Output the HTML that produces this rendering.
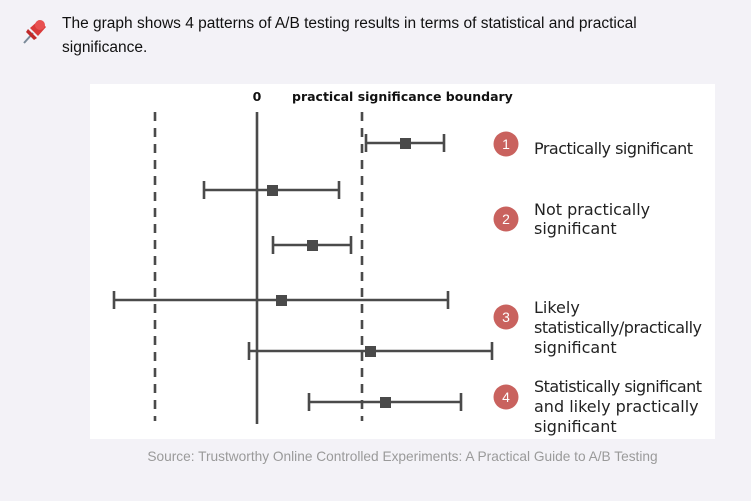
<!DOCTYPE html>
<html><head><meta charset="utf-8"><style>
body{margin:0;width:751px;height:501px;background:#f3f2f7;font-family:"Liberation Sans",sans-serif;position:relative;overflow:hidden}
.hdr{position:absolute;left:62px;top:12px;font-size:15.5px;line-height:24px;color:#111;width:640px}
.src{position:absolute;left:0;width:805px;text-align:center;top:449px;font-size:13.7px;color:#9a9a9a}
</style></head><body>
<svg style="position:absolute;left:20px;top:16px" width="30" height="30" viewBox="0 0 30 30">
<line x1="4" y1="27" x2="13" y2="17" stroke="#7a8a99" stroke-width="2"/>
<path d="M10 12 L19 4 L26 11 L18 20 Z" fill="#d93a3a"/>
<circle cx="20" cy="9" r="5" fill="#e85050"/>
<path d="M8 13 L17 22 L14 24 L6 16 Z" fill="#c02a2a"/>
</svg>
<div class="hdr">The graph shows 4 patterns of A/B testing results in terms of statistical and practical significance.</div>
<svg style="position:absolute;left:0;top:0" width="751" height="501">
<rect x="90" y="84" width="625" height="355" fill="#fff"/>
<text x="257" y="101" font-family="DejaVu Sans,sans-serif" font-weight="bold" font-size="12.5" text-anchor="middle" fill="#111">0</text>
<text x="292" y="101" font-family="DejaVu Sans,sans-serif" font-weight="bold" font-size="12.5" fill="#111">practical significance boundary</text>
<g stroke="#4a4a4a" stroke-width="2.6" fill="none">
<line x1="155" y1="112" x2="155" y2="421" stroke-dasharray="9,7"/>
<line x1="362" y1="112" x2="362" y2="421" stroke-dasharray="9,7"/>
<line x1="257" y1="112" x2="257" y2="424"/>
<path d="M366 143H444M366 134V152M444 134V152"/>
<path d="M204 190H339M204 181V199M339 181V199"/>
<path d="M273 245H351M273 236V254M351 236V254"/>
<path d="M114 300H448M114 291V309M448 291V309"/>
<path d="M249 351H492M249 342V360M492 342V360"/>
<path d="M309 402H461M309 393V411M461 393V411"/>
</g>
<g fill="#4a4a4a">
<rect x="400" y="138" width="11" height="11"/>
<rect x="267" y="185" width="11" height="11"/>
<rect x="307" y="240" width="11" height="11"/>
<rect x="276" y="295" width="11" height="11"/>
<rect x="365" y="346" width="11" height="11"/>
<rect x="380" y="397" width="11" height="11"/>
</g>
<g fill="#c9625e"><circle cx="506" cy="144" r="12.5"/><circle cx="506" cy="219" r="12.5"/><circle cx="506" cy="317" r="12.5"/><circle cx="506" cy="397" r="12.5"/></g>
<g fill="#fff" font-size="14" text-anchor="middle" font-family="Liberation Sans,sans-serif"><text x="506" y="149">1</text><text x="506" y="224">2</text><text x="506" y="322">3</text><text x="506" y="402">4</text></g>
<g fill="#222" font-size="16" font-family="DejaVu Sans,sans-serif">
<text x="534" y="154" textLength="159">Practically significant</text>
<text x="534" y="215">Not practically</text><text x="534" y="234">significant</text>
<text x="534" y="313">Likely</text><text x="534" y="333" textLength="168">statistically/practically</text><text x="534" y="353">significant</text>
<text x="534" y="392" textLength="168">Statistically significant</text><text x="534" y="412">and likely practically</text><text x="534" y="432">significant</text>
</g>
</svg>
<div class="src">Source: Trustworthy Online Controlled Experiments: A Practical Guide to A/B Testing</div>
</body></html>
